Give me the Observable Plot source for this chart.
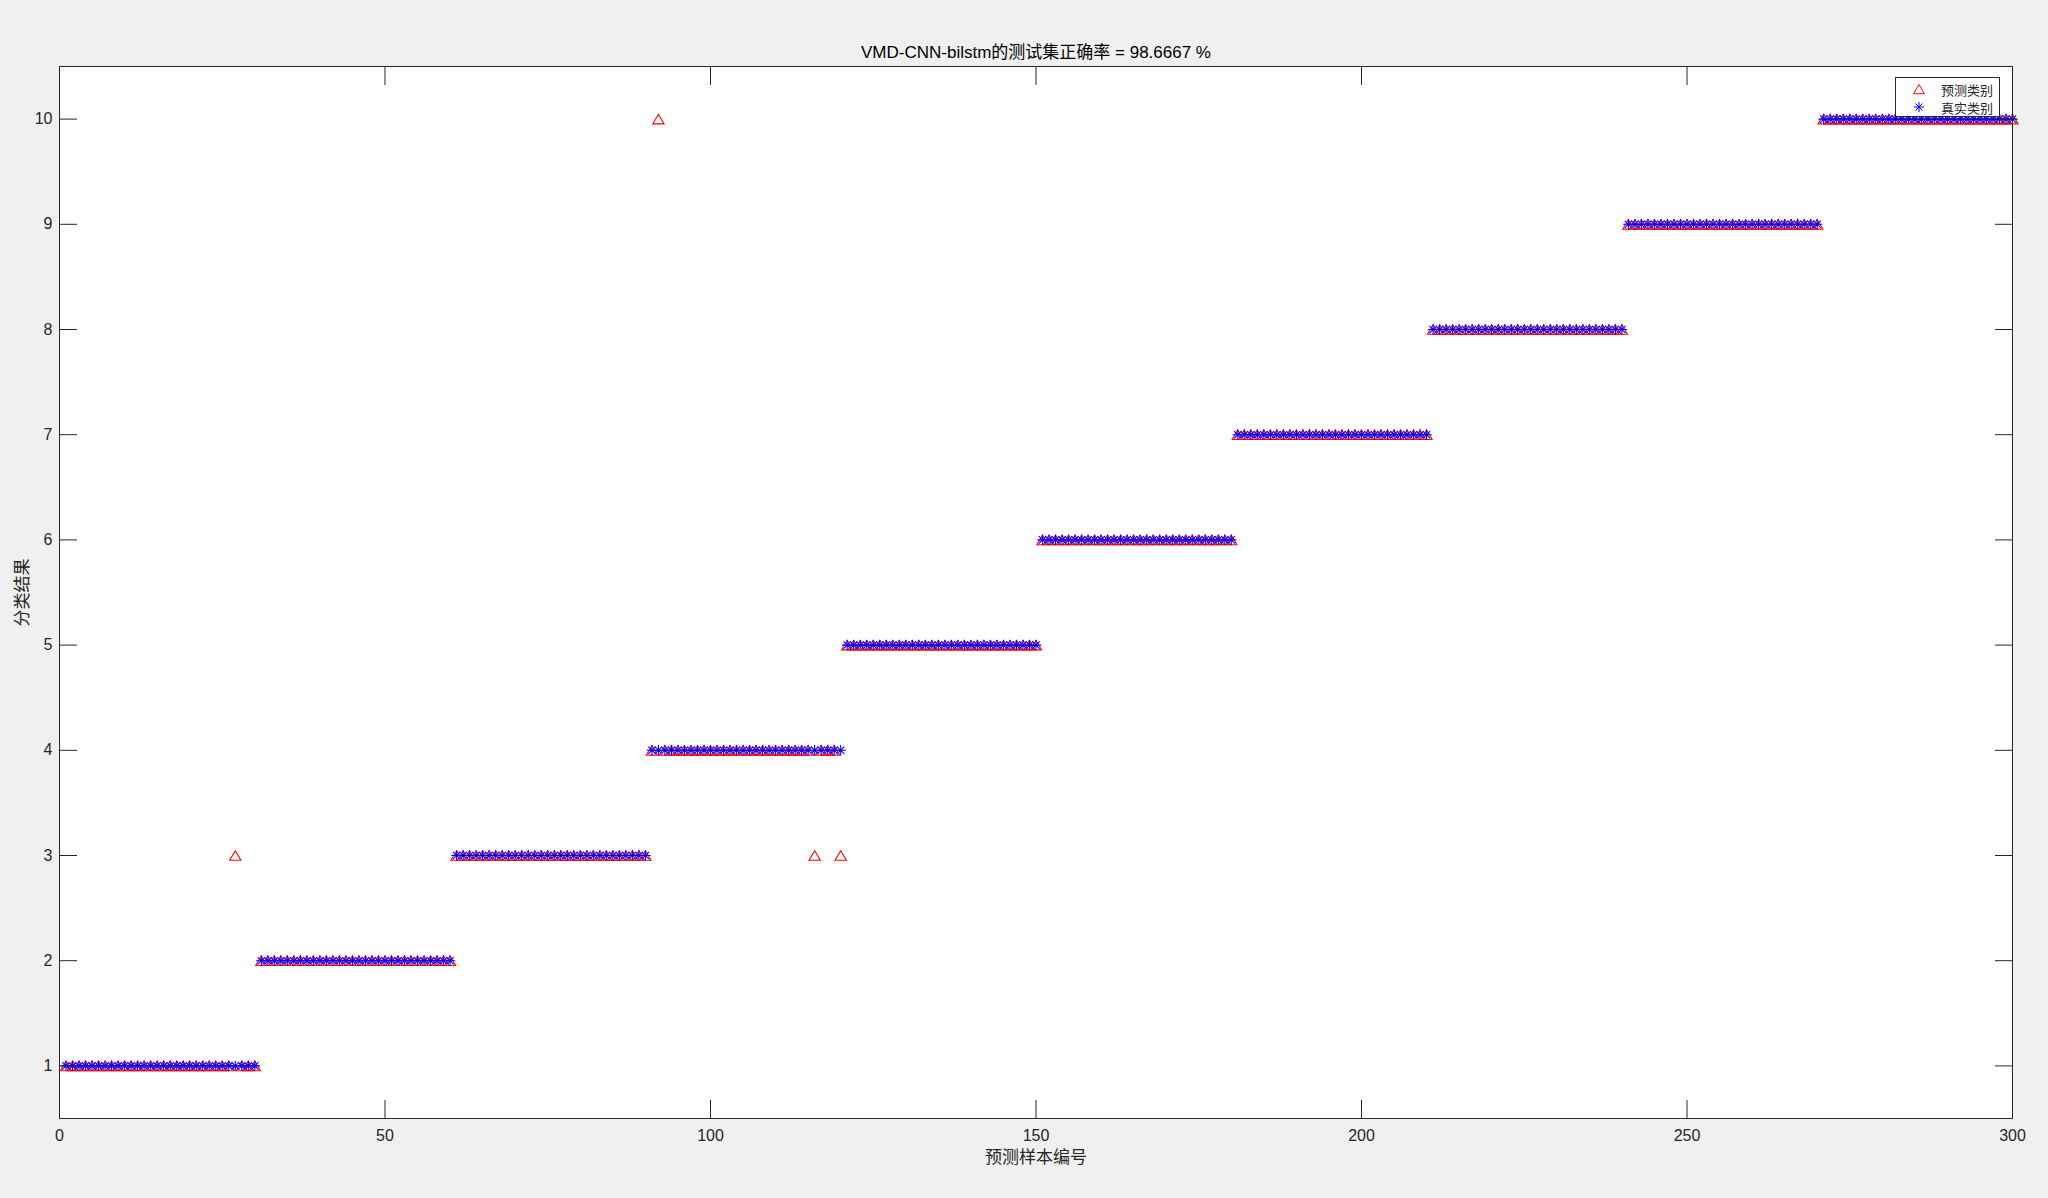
<!DOCTYPE html>
<html><head><meta charset="utf-8">
<script src="https://cdn.jsdelivr.net/npm/d3@7"></script>
<script src="https://cdn.jsdelivr.net/npm/@observablehq/plot@0.6"></script>
<style>
body{margin:0;background:#f0f0f0;}
#wrap{position:relative;width:2048px;height:1198px;font-family:"Liberation Sans","Noto Sans CJK SC",sans-serif;color:#262626;}
#legend{position:absolute;left:1895px;top:77px;width:105px;height:40px;background:#fff;border:1px solid #262626;box-sizing:border-box;font-size:13px;}
#legend .row{position:absolute;left:0;height:18px;display:flex;align-items:center;}
#legend .row span{position:absolute;left:45px;white-space:nowrap;color:#262626;}
</style></head><body>
<div id="wrap"></div>
<script>
// ---- data ----
const classes = [1, 2, 3, 4, 5, 6, 7, 8, 9, 10];
const samplesPerClass = [30, 30, 30, 30, 30, 30, 30, 30, 30, 30];
const misclassified = [
  {sample: 27, predicted: 3},
  {sample: 92, predicted: 10},
  {sample: 116, predicted: 3},
  {sample: 120, predicted: 3}
];
const xTicks = [0, 50, 100, 150, 200, 250, 300];
const yTicks = [1, 2, 3, 4, 5, 6, 7, 8, 9, 10];
const titleText = "VMD-CNN-bilstm的测试集正确率 = 98.6667 %";
const xLabel = "预测样本编号";
const yLabel = "分类结果";
const seriesNames = ["预测类别", "真实类别"];

// ---- build table ----
const trueData = [];
classes.forEach((c, i) => { for (let k = 0; k < samplesPerClass[i]; k++) trueData.push({sample: trueData.length + 1, value: c}); });
const errMap = new Map(misclassified.map(d => [d.sample, d.predicted]));
const predData = trueData.map(d => ({sample: d.sample, value: errMap.has(d.sample) ? errMap.get(d.sample) : d.value}));

// custom MATLAB-like markers
const triangleSym = {draw(ctx, size) { const r = Math.sqrt(size / Math.PI); const h = r * 0.92, w = r * 1.08; ctx.moveTo(0, -h); ctx.lineTo(w, h); ctx.lineTo(-w, h); ctx.closePath(); }};
const asteriskSym = {draw(ctx, size) { const r = Math.sqrt(size / Math.PI); const d = r * Math.SQRT1_2;
  ctx.moveTo(-r, 0); ctx.lineTo(r, 0); ctx.moveTo(0, -r); ctx.lineTo(0, r);
  ctx.moveTo(-d, -d); ctx.lineTo(d, d); ctx.moveTo(-d, d); ctx.lineTo(d, -d); }};

const axisColor = "#262626";
const plot = Plot.plot({
  width: 2048, height: 1198,
  marginLeft: 59, marginRight: 36, marginTop: 66, marginBottom: 80,
  style: {background: "transparent", fontFamily: '"Liberation Sans","Noto Sans CJK SC",sans-serif', fontSize: "16px", color: axisColor},
  x: {domain: [0, 300]},
  y: {domain: [0.5, 10.5]},
  marks: [
    Plot.frame({fill: "white"}),
    Plot.dot(predData, {x: "sample", y: "value", symbol: triangleSym, r: 5.2, stroke: "#ff0000", fill: "none", strokeWidth: 1.1}),
    Plot.dot(trueData, {x: "sample", y: "value", symbol: asteriskSym, r: 5.2, stroke: "#0000ff", strokeWidth: 1.1}),
    Plot.axisX(xTicks, {anchor: "bottom", tickSize: 0, tickPadding: 11, stroke: axisColor, fill: axisColor, label: null, tickFormat: d3.format("d"), fontSize: 16}),
    Plot.axisX(xTicks, {anchor: "bottom", tickSize: -18, tickFormat: () => "", stroke: axisColor, label: null}),
    Plot.axisX(xTicks, {anchor: "top", tickSize: -18, tickFormat: () => "", stroke: axisColor, label: null}),
    Plot.axisY(yTicks, {anchor: "left", tickSize: 0, tickPadding: 7, stroke: axisColor, fill: axisColor, label: null, tickFormat: d3.format("d"), fontSize: 16}),
    Plot.axisY(yTicks, {anchor: "left", tickSize: -18, tickFormat: () => "", stroke: axisColor, label: null}),
    Plot.axisY(yTicks, {anchor: "right", tickSize: -18, tickFormat: () => "", stroke: axisColor, label: null}),
    Plot.frame({stroke: axisColor, strokeWidth: 1}),
    Plot.text([xLabel], {frameAnchor: "bottom", dy: 39, text: d => d, fontSize: 17, fill: axisColor, lineAnchor: "middle"}),
    Plot.text([yLabel], {frameAnchor: "left", dx: -37, rotate: -90, text: d => d, fontSize: 17, fill: axisColor, textAnchor: "middle", lineAnchor: "middle"}),
    Plot.text([titleText], {frameAnchor: "top", dy: -14, text: d => d, fontSize: 17, fill: "#000", lineAnchor: "middle"})
  ]
});
const wrap = document.getElementById("wrap");
wrap.appendChild(plot);
plot.style.position = "absolute"; plot.style.left = "0"; plot.style.top = "0";

// legend
const lg = document.createElement("div"); lg.id = "legend";
const mk = [
  `<svg width="14" height="14" style="position:absolute;left:16px"><path d="M7,2.5L12.4,11.7L1.6,11.7Z" fill="none" stroke="#ff0000"/></svg>`,
  `<svg width="14" height="14" style="position:absolute;left:16px"><path d="M2,7H12M7,2V12M3.5,3.5L10.5,10.5M3.5,10.5L10.5,3.5" stroke="#0000ff"/></svg>`
];
seriesNames.forEach((n, i) => {
  const r = document.createElement("div"); r.className = "row"; r.style.top = (i === 0 ? 2 : 20) + "px"; r.style.width = "100%";
  r.innerHTML = mk[i] + `<span>${n}</span>`;
  lg.appendChild(r);
});
wrap.appendChild(lg);
</script>
</body></html>
